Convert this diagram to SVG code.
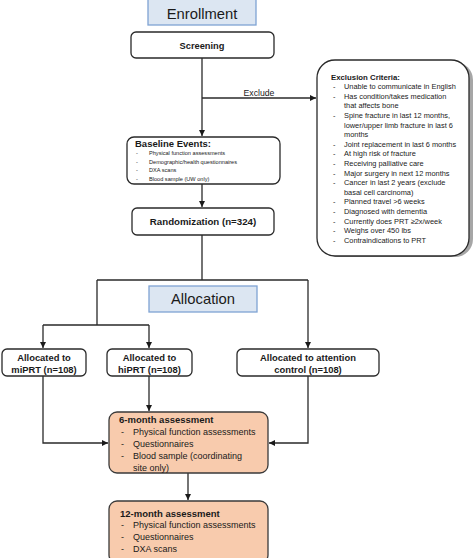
<svg xmlns="http://www.w3.org/2000/svg" width="474" height="558" viewBox="0 0 474 558">
<defs>
<marker id="arr" viewBox="0 0 10 10" refX="10" refY="5" markerWidth="6" markerHeight="6" markerUnits="userSpaceOnUse" orient="auto">
<path d="M0,0 L10,5 L0,10 z" fill="#1a1a1a"/>
</marker>
<style>
text{font-family:"Liberation Sans",Arial,sans-serif;fill:#1a1a1a;dominant-baseline:central}
.box{fill:#fff;stroke:#2a2a2a;stroke-width:1.3}
.blue{fill:#dce6f2;stroke:#7fa3d3;stroke-width:1.3}
.peach{fill:#f8cbad;stroke:#3a3a3a;stroke-width:1.3}
.ln{fill:none;stroke:#2a2a2a;stroke-width:1.3}
.b{font-weight:bold}
.c{text-anchor:middle}
.ex{font-size:7.4px}
.bs{font-size:5.6px}
.as{font-size:9px}
.ah{font-size:9.5px;font-weight:bold}
.nb{font-size:9.4px;font-weight:bold}
</style>
</defs>
<rect width="474" height="558" fill="#fff"/>

<g id="connectors">
<path class="ln" d="M202,58 V136" marker-end="url(#arr)"/>
<path class="ln" d="M202,98 H316" marker-end="url(#arr)"/>
<path class="ln" d="M202,184 V207" marker-end="url(#arr)"/>
<path class="ln" d="M202,235 V280 M97,280 H308"/>
<path class="ln" d="M97,280 V325 M43,325 H149"/>
<path class="ln" d="M43,325 V348" marker-end="url(#arr)"/>
<path class="ln" d="M149,325 V348" marker-end="url(#arr)"/>
<path class="ln" d="M308,280 V348" marker-end="url(#arr)"/>
<path class="ln" d="M43,376 V443 H108" marker-end="url(#arr)"/>
<path class="ln" d="M149,376 V411" marker-end="url(#arr)"/>
<path class="ln" d="M308,376 V443 H269" marker-end="url(#arr)"/>
<path class="ln" d="M188,473 V500" marker-end="url(#arr)"/>
<text x="259" y="93" style="font-size:8.7px" class="c">Exclude</text>
</g>

<g id="enrollment">
<rect class="blue" x="148" y="-2" width="108" height="27"/>
<text x="202" y="13.5" class="c" style="font-size:14.8px">Enrollment</text>
</g>

<g id="screening">
<rect class="box" x="131" y="32" width="143" height="26" rx="5"/>
<text x="202" y="45.5" class="c b" style="font-size:9.3px">Screening</text>
</g>

<g id="exclusion">
<rect x="321" y="62" width="152" height="195" rx="18" fill="#a6a6a6"/>
<rect class="box" x="317" y="60" width="152" height="196" rx="18"/>
<text x="331" y="77" class="b" style="font-size:7.8px">Exclusion Criteria:</text>
<g class="ex">
<text x="333" y="86.6">-</text><text x="344" y="86.6">Unable to communicate in English</text>
<text x="333" y="96.2">-</text><text x="344" y="96.2">Has condition/takes medication</text>
<text x="344" y="105.8">that affects bone</text>
<text x="333" y="115.4">-</text><text x="344" y="115.4">Spine fracture in last 12 months,</text>
<text x="344" y="125">lower/upper limb fracture in last 6</text>
<text x="344" y="134.6">months</text>
<text x="333" y="144.2">-</text><text x="344" y="144.2">Joint replacement in last 6 months</text>
<text x="333" y="153.8">-</text><text x="344" y="153.8">At high risk of fracture</text>
<text x="333" y="163.4">-</text><text x="344" y="163.4">Receiving palliative care</text>
<text x="333" y="173">-</text><text x="344" y="173">Major surgery in next 12 months</text>
<text x="333" y="182.6">-</text><text x="344" y="182.6">Cancer in last 2 years (exclude</text>
<text x="344" y="192.2">basal cell carcinoma)</text>
<text x="333" y="201.8">-</text><text x="344" y="201.8">Planned travel &gt;6 weeks</text>
<text x="333" y="211.4">-</text><text x="344" y="211.4">Diagnosed with dementia</text>
<text x="333" y="221">-</text><text x="344" y="221">Currently does PRT ≥2x/week</text>
<text x="333" y="230.6">-</text><text x="344" y="230.6">Weighs over 450 lbs</text>
<text x="333" y="240.2">-</text><text x="344" y="240.2">Contraindications to PRT</text>
</g>
</g>

<g id="baseline">
<rect class="box" x="127" y="137" width="153" height="47" rx="7"/>
<text x="135" y="143" class="b" style="font-size:9.5px">Baseline Events:</text>
<g class="bs">
<text x="136" y="153">-</text><text x="149" y="153">Physical function assessments</text>
<text x="136" y="161.5">-</text><text x="149" y="161.5">Demographic/health questionnaires</text>
<text x="136" y="170">-</text><text x="149" y="170">DXA scans</text>
<text x="136" y="178.5">-</text><text x="149" y="178.5">Blood sample (UW only)</text>
</g>
</g>

<g id="randomization">
<rect class="box" x="132" y="208" width="142" height="27" rx="5"/>
<text x="203" y="221.5" class="c b" style="font-size:9.7px">Randomization (n=324)</text>
</g>

<g id="allocation">
<rect class="blue" x="149" y="286" width="108" height="26"/>
<text x="203" y="299" class="c" style="font-size:14.8px">Allocation</text>
</g>

<g id="miprt">
<rect class="box" x="2" y="349" width="84" height="27" rx="5"/>
<text x="44" y="357.5" class="c nb">Allocated to</text>
<text x="44" y="369.5" class="c nb">miPRT (n=108)</text>
</g>

<g id="hiprt">
<rect class="box" x="107" y="349" width="85" height="27" rx="5"/>
<text x="149.5" y="357.5" class="c nb">Allocated to</text>
<text x="149.5" y="369.5" class="c nb">hiPRT (n=108)</text>
</g>

<g id="attention">
<rect class="box" x="237" y="349" width="142" height="27" rx="5"/>
<text x="308" y="357.5" class="c nb">Allocated to attention</text>
<text x="308" y="369.5" class="c nb">control (n=108)</text>
</g>

<g id="month6">
<rect class="peach" x="109" y="412" width="159" height="61" rx="8"/>
<text x="119" y="419.5" class="ah">6-month assessment</text>
<g class="as">
<text x="121" y="431.5">-</text><text x="133" y="431.5">Physical function assessments</text>
<text x="121" y="443.5">-</text><text x="133" y="443.5">Questionnaires</text>
<text x="121" y="455.5">-</text><text x="133" y="455.5">Blood sample (coordinating</text>
<text x="133" y="467.5">site only)</text>
</g>
</g>

<g id="month12">
<rect class="peach" x="109" y="501" width="159" height="62" rx="8"/>
<text x="120" y="513" class="ah">12-month assessment</text>
<g class="as">
<text x="121" y="525">-</text><text x="133" y="525">Physical function assessments</text>
<text x="121" y="537">-</text><text x="133" y="537">Questionnaires</text>
<text x="121" y="549">-</text><text x="133" y="549">DXA scans</text>
</g>
</g>
</svg>
